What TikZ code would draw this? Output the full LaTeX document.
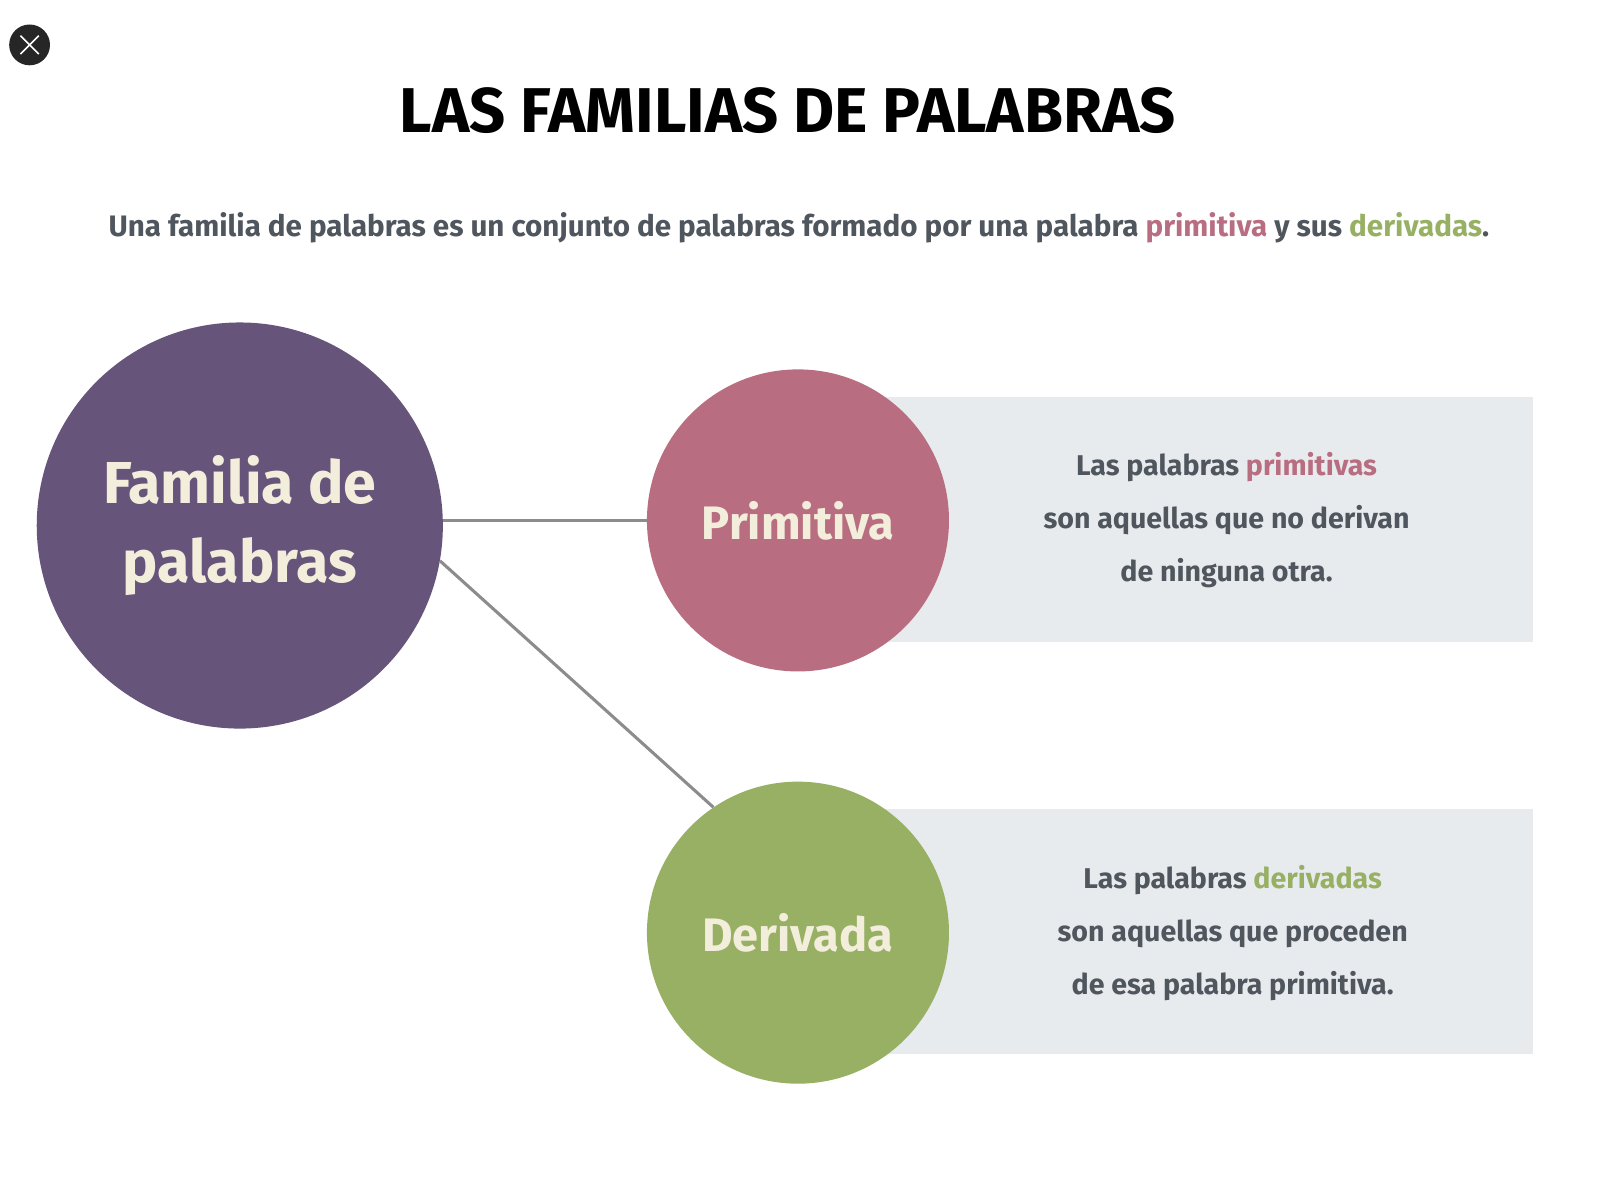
\documentclass[tikz,border=0pt]{standalone}
\usepackage{fontspec}
\setmainfont{Fira Sans}
\definecolor{txt}{HTML}{50565E}
\definecolor{purp}{HTML}{66547A}
\definecolor{rose}{HTML}{B86E80}
\definecolor{olive}{HTML}{97B064}
\definecolor{boxc}{HTML}{E8EBEE}
\definecolor{cream}{HTML}{F3EEDC}
\begin{document}
\begin{tikzpicture}[x=1pt,y=-1pt,
  circ/.style={circle,inner sep=0pt,text=cream,font=\bfseries\fontsize{46}{60}\selectfont,align=center},
  panel/.style={fill=boxc,draw=none},
  desc/.style={text=txt,font=\bfseries\fontsize{28}{52}\selectfont,align=center},
  link/.style={draw=gray!90,line width=3pt}]
\useasboundingbox (0,0) rectangle (1568,1176);
\fill[white] (0,0) rectangle (1568,1176);
\node[circle,fill=black!85,minimum size=40pt,inner sep=0pt] (close) at (29,44) {};
\draw[white,line width=1.5pt] (close.center) +(-9,-9) -- +(9,9) (close.center) +(-9,9) -- +(9,-9);
\node (title) at (772,108) {\bfseries\fontsize{62}{70}\selectfont LAS FAMILIAS DE PALABRAS};
\node[text=txt] (sub) at (783,223) {\bfseries\fontsize{29}{34}\selectfont Una familia de palabras es un conjunto de palabras formado por una palabra \textcolor{rose}{primitiva} y sus \textcolor{olive}{derivadas}.};
\fill[panel] (860,389) rectangle (1502,629);
\fill[panel] (860,793) rectangle (1502,1033);
\node[circ,fill=purp,minimum size=398pt,font=\bfseries\fontsize{58}{78}\selectfont] (fam) at (235,515) {Familia de\\palabras};
\node[circ,fill=rose,minimum size=296pt] (prim) at (782,510) {Primitiva};
\node[circ,fill=olive,minimum size=296pt] (der) at (782,914) {Derivada};
\draw[link] (fam.east |- prim) -- (prim.west);
\draw[link] (fam.-10) -- (der.124);
\node[desc] (d1) at (1202,510) {Las palabras \textcolor{rose}{primitivas}\\son aquellas que no derivan\\de ninguna otra.};
\node[desc] (d2) at (1208,914) {Las palabras \textcolor{olive}{derivadas}\\son aquellas que proceden\\de esa palabra primitiva.};
\end{tikzpicture}
\end{document}
